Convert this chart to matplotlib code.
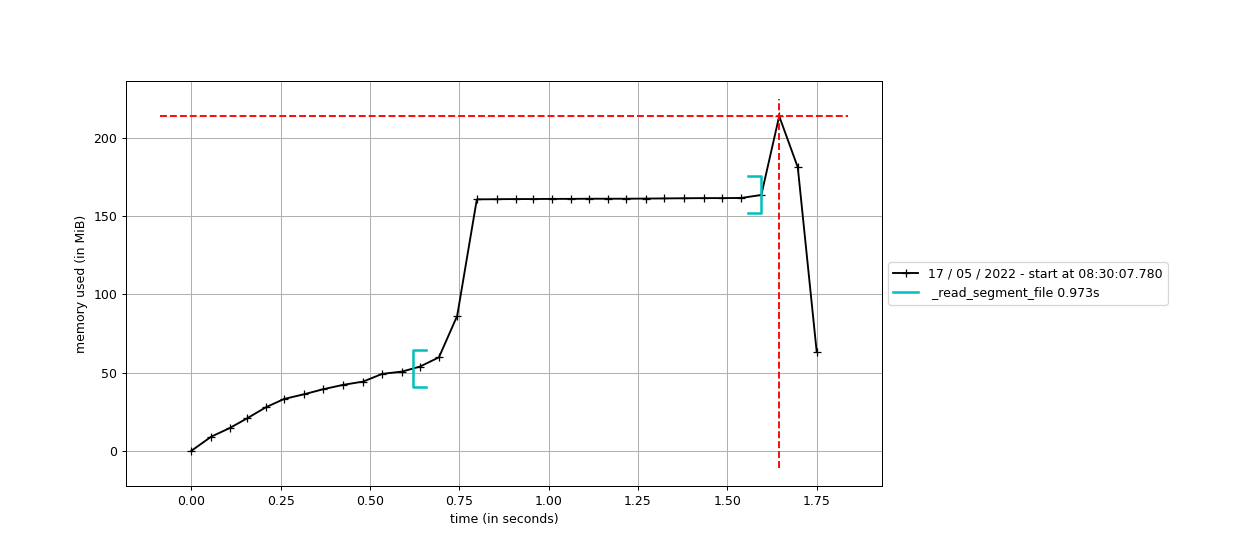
import matplotlib
matplotlib.use("Agg")
import matplotlib.pyplot as plt
import numpy as np

# Data (time in seconds, memory in MiB)
times = [0.0, 0.056, 0.107, 0.157, 0.209, 0.260, 0.316, 0.369, 0.425, 0.481,
         0.534, 0.590, 0.640, 0.693, 0.744, 0.799, 0.855, 0.909, 0.957, 1.008,
         1.062, 1.113, 1.167, 1.216, 1.272, 1.323, 1.378, 1.435, 1.486, 1.539,
         1.595, 1.645, 1.697, 1.750]
memory = [0.0, 9.1, 14.5, 20.9, 27.9, 33.2, 36.2, 39.4, 42.2, 44.3,
          49.2, 50.7, 53.9, 59.8, 86.3, 160.8, 160.9, 161.0, 161.0, 161.1,
          161.1, 161.2, 161.2, 161.2, 161.3, 161.4, 161.5, 161.6, 161.6, 161.7,
          163.6, 214.0, 181.3, 63.2]
series_label = "17 / 05 / 2022 - start at 08:30:07.780"

func_name = "_read_segment_file"
func_start, func_end = 0.621, 1.594
func_mem_start, func_mem_end = 52.7, 163.9

fig = plt.figure(figsize=(14, 6), dpi=90)
ax = fig.add_axes([0.1, 0.1, 0.6, 0.75])

ax.plot(times, memory, "+-", color="k", label=series_label)

max_mem = max(memory)
max_t = times[int(np.argmax(memory))]
xl = ax.get_xlim()
yl = ax.get_ylim()
ax.hlines(max_mem, xl[0] + 0.001, xl[1] - 0.001, colors="r", linestyles="--")
ax.vlines(max_t, yl[0] + 0.001, yl[1] - 0.001, colors="r", linestyles="--")

# Function brackets
vsize = 11.8
hsize = 0.036
bx = np.array([hsize, 0, 0, hsize])
by = np.array([vsize, vsize, -vsize, -vsize])
ax.plot(bx + func_start, by + func_mem_start, "-c", linewidth=2,
        label=" " + func_name + " %.3fs" % (func_end - func_start))
ax.plot(-bx + func_end, by + func_mem_end, "-c", linewidth=2)

ax.set_xlabel("time (in seconds)")
ax.set_ylabel("memory used (in MiB)")
ax.grid(True)
ax.legend(loc="center left", bbox_to_anchor=(1, 0.5))

fig.savefig("out.png", dpi=90)
